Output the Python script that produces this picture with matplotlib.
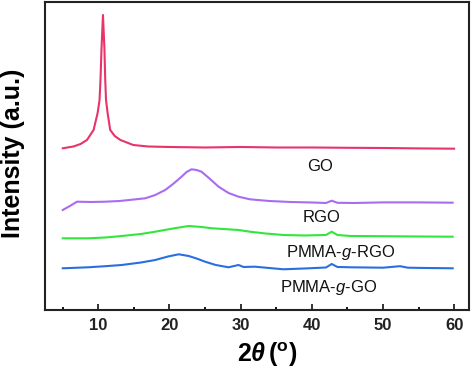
import matplotlib
matplotlib.use('Agg')
import matplotlib.pyplot as plt
import numpy as np

plt.rcParams['font.family'] = ['Liberation Sans', 'DejaVu Sans']
plt.rcParams['mathtext.fontset'] = 'custom'
plt.rcParams['mathtext.rm'] = 'Liberation Sans'
plt.rcParams['mathtext.it'] = 'Liberation Sans:italic'
plt.rcParams['mathtext.bf'] = 'Liberation Sans:bold'
plt.rcParams['mathtext.bfit'] = 'Liberation Sans:bold:italic'

# ----- data (stacked offsets in a.u.) -----

go_x = [5.0, 6.5, 7.5, 8.4, 9.33, 9.9, 10.17, 10.3, 10.45, 10.65, 10.85,
        10.97, 11.08, 11.3, 11.67, 12.3, 13.1, 14.9, 17.0, 20.0, 25.0, 30.0,
        35.0, 40.0, 43.5, 45.0, 50.0, 55.0, 60.0]
go_y = [161.7, 163.5, 166.0, 170.0, 180.0, 197.0, 210.0, 230.0, 262.0, 295.0,
        262.0, 230.0, 210.0, 197.0, 180.0, 174.0, 170.0, 165.0, 163.5, 163.0,
        162.5, 163.0, 162.5, 162.5, 162.3, 162.2, 162.0, 161.6, 161.3]

rgo_x = [5.0, 6.0, 7.0, 9.0, 11.0, 13.0, 16.6, 18.0, 19.4, 20.5, 21.7, 22.4,
         23.1, 23.8, 24.5, 25.7, 26.9, 28.3, 29.7, 31.3, 34.0, 37.0, 40.0,
         42.0, 42.8, 43.6, 46.0, 50.0, 55.0, 59.8]
rgo_y = [100.0, 104.0, 108.3, 108.0, 108.3, 109.0, 111.7, 115.0, 120.0, 126.0,
         133.3, 138.0, 140.7, 140.0, 138.3, 131.0, 123.3, 117.0, 113.3, 110.7,
         109.0, 108.0, 107.5, 107.0, 109.3, 107.2, 107.0, 107.6, 107.6, 107.3]

prgo_x = [5.0, 8.6, 11.0, 13.3, 16.0, 18.0, 20.5, 22.7, 24.5, 26.0, 28.0, 29.7,
          31.3, 33.5, 36.0, 39.0, 42.0, 42.8, 43.6, 45.4, 50.0, 55.0, 59.8]
prgo_y = [71.7, 71.7, 72.5, 74.0, 76.0, 78.3, 81.5, 84.0, 83.0, 81.7, 80.8,
          80.0, 78.3, 76.5, 75.0, 74.5, 75.0, 78.3, 75.0, 74.0, 73.8, 73.5, 73.3]

pgo_x = [5.0, 8.6, 11.0, 13.3, 16.0, 18.0, 19.8, 21.3, 22.7, 24.0, 25.0, 26.5,
         28.3, 29.7, 30.4, 32.0, 34.0, 36.0, 39.0, 42.0, 42.8, 43.6, 45.4, 50.0,
         52.4, 53.5, 56.0, 59.8]
pgo_y = [41.7, 42.7, 43.8, 45.0, 47.5, 50.0, 53.5, 55.7, 54.0, 51.0, 48.3,
         45.0, 42.7, 45.0, 43.0, 43.3, 42.0, 40.7, 41.5, 42.5, 46.0, 43.0, 42.7,
         42.3, 43.8, 42.3, 42.0, 41.7]

series = [
    (go_x, go_y, '#e8336b', 'GO', (41.2, 143)),
    (rgo_x, rgo_y, '#a86cf0', 'RGO', (41.4, 92)),
    (prgo_x, prgo_y, '#33e63c', 'PMMA-$g$-RGO', (44.0, 57)),
    (pgo_x, pgo_y, '#2a6fe0', 'PMMA-$g$-GO', (42.4, 22)),
]

# ----- plot -----

fig = plt.figure(figsize=(4.74, 3.70), dpi=100)
ax = fig.add_axes([0.0949, 0.1622, 0.8946, 0.8324])

for x, y, color, name, pos in series:
    ax.plot(x, y, color=color, lw=1.5)
    ax.text(pos[0], pos[1], name, ha='center', va='center', fontsize=12,
            color='#111111')

ax.set_xlim(2.5, 62.1)
ax.set_ylim(0, 308)
ax.set_xticks([10, 20, 30, 40, 50, 60])
ax.set_xticks([5, 15, 25, 35, 45, 55], minor=True)
ax.set_yticks([])
ax.tick_params(axis='x', which='major', direction='in', length=4, width=1.3,
               pad=6, labelsize=12, colors='#222222')
ax.tick_params(axis='x', which='minor', direction='in', length=2.5, width=1.3)
for label in ax.get_xticklabels():
    label.set_fontweight('bold')
for sp in ax.spines.values():
    sp.set_linewidth(1.5)
    sp.set_color('#222222')

ax.set_ylabel('Intensity (a.u.)', fontsize=18, fontweight='bold')
ax.yaxis.set_label_coords(-0.047, 0.508)
ax.set_xlabel(r'$\mathbf{2}\mathbfit{\theta}\,\mathbf{(^o)}$', fontsize=18)
ax.xaxis.set_label_coords(0.524, -0.100)

fig.savefig('out.png', dpi=100)
